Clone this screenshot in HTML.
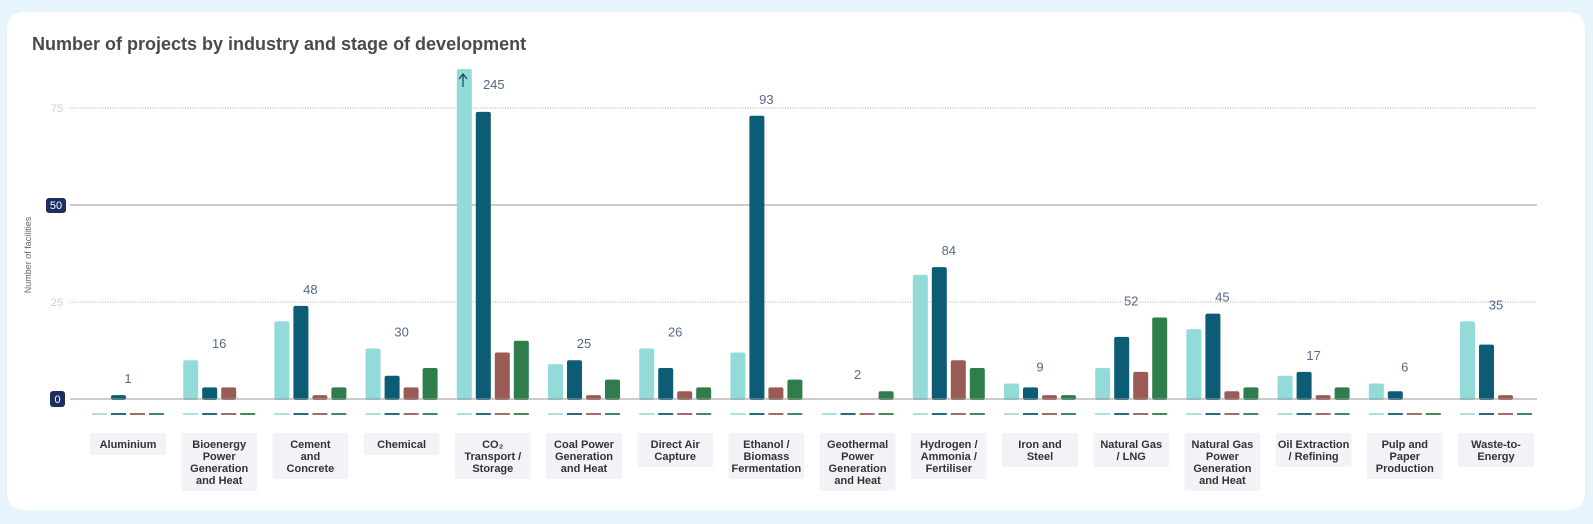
<!DOCTYPE html>
<html><head><meta charset="utf-8"><style>
html,body{margin:0;padding:0;background:#e6f4fb;}
body{width:1593px;height:524px;position:relative;overflow:hidden;font-family:"Liberation Sans",sans-serif;}
.card{position:absolute;left:7px;top:12px;width:1578px;height:498px;background:#fff;border-radius:16px;}
</style></head><body>
<div class="card"></div>
<svg width="1593" height="524" style="position:absolute;left:0;top:0" font-family="Liberation Sans, sans-serif">
<text x="32" y="50" font-size="18" font-weight="bold" fill="#4a4a4a">Number of projects by industry and stage of development</text>
<text transform="translate(31,255) rotate(-90)" text-anchor="middle" font-size="9" fill="#666">Number of facilities</text>
<line x1="70" x2="1537" y1="108" y2="108" stroke="#aaa" stroke-dasharray="1,1.5"/>
<line x1="70" x2="1537" y1="302" y2="302" stroke="#aaa" stroke-dasharray="1,1.5"/>
<line x1="70" x2="1537" y1="205" y2="205" stroke="#999"/>
<text x="57" y="112" font-size="11" fill="#c8d0dc" text-anchor="middle">75</text>
<text x="57" y="306" font-size="11" fill="#c8d0dc" text-anchor="middle">25</text>
<rect x="46" y="198" width="20" height="15" rx="3" fill="#1d2f5e"/>
<text x="56" y="209" font-size="11" fill="#fff" text-anchor="middle">50</text>
<rect x="50" y="391" width="15" height="16" rx="3" fill="#1d2f5e"/>
<text x="57.5" y="403" font-size="11" fill="#fff" text-anchor="middle">0</text>
<g id="bars"></g>
<line x1="70" x2="1537" y1="399" y2="399" stroke="#999"/>
</svg>
<script>
var d=[["Aluminium",[0,1,0,0],1],["Bioenergy|Power|Generation|and Heat",[10,3,3,0],16],["Cement|and|Concrete",[20,24,1,3],48],["Chemical",[13,6,3,8],30],["CO₂|Transport /|Storage",[85,74,12,15],245],["Coal Power|Generation|and Heat",[9,10,1,5],25],["Direct Air|Capture",[13,8,2,3],26],["Ethanol /|Biomass|Fermentation",[12,73,3,5],93],["Geothermal|Power|Generation|and Heat",[0,0,0,2],2],["Hydrogen /|Ammonia /|Fertiliser",[32,34,10,8],84],["Iron and|Steel",[4,3,1,1],9],["Natural Gas|/ LNG",[8,16,7,21],52],["Natural Gas|Power|Generation|and Heat",[18,22,2,3],45],["Oil Extraction|/ Refining",[6,7,1,3],17],["Pulp and|Paper|Production",[4,2,0,0],6],["Waste-to-|Energy",[20,14,1,0],35]];
var col=["#92dbd8","#0b5c74","#9b5b55","#2f7d4b"],off=[-36,-17,2,21],s="",u=3.88,z=399;
d.forEach(function(g,i){var c=128+i*91.2,mx=0;
g[1].forEach(function(v,j){var h=v*u;if(j==0&&v==85)h=z-69;var x=c+off[j];
if(h>0){s+='<rect x="'+x+'" y="'+(z-h)+'" width="15" height="'+(h+1)+'" rx="2" fill="'+col[j]+'"/>';}
s+='<rect x="'+x+'" y="413" width="15" height="2" fill="'+col[j]+'" opacity="'+(j==0?0.8:0.9)+'"/>';
if(h>mx&&j>0)mx=h;if(j==0&&v<85&&h>mx)mx=h;});
if(g[2]==245){s+='<text x="'+(c+1)+'" y="89" font-size="13" fill="#556a88" text-anchor="middle">245</text><path d="M463 87 V75 M459 79 L463 74 L467 79" stroke="#1d3d55" stroke-width="1.2" fill="none"/>';}
else s+='<text x="'+c+'" y="'+(z-mx-12)+'" font-size="13" fill="#556a88" text-anchor="middle">'+g[2]+'</text>';
var L=g[0].split("|");s+='<rect x="'+(c-38)+'" y="433" width="76" height="'+(L.length*12+10)+'" rx="2" fill="#f1f3f7"/>';
L.forEach(function(t,k){s+='<text x="'+c+'" y="'+(448+k*12)+'" font-size="11" font-weight="bold" fill="#333" text-anchor="middle">'+t+'</text>';});});
document.getElementById("bars").innerHTML=s;
</script>
</body></html>
